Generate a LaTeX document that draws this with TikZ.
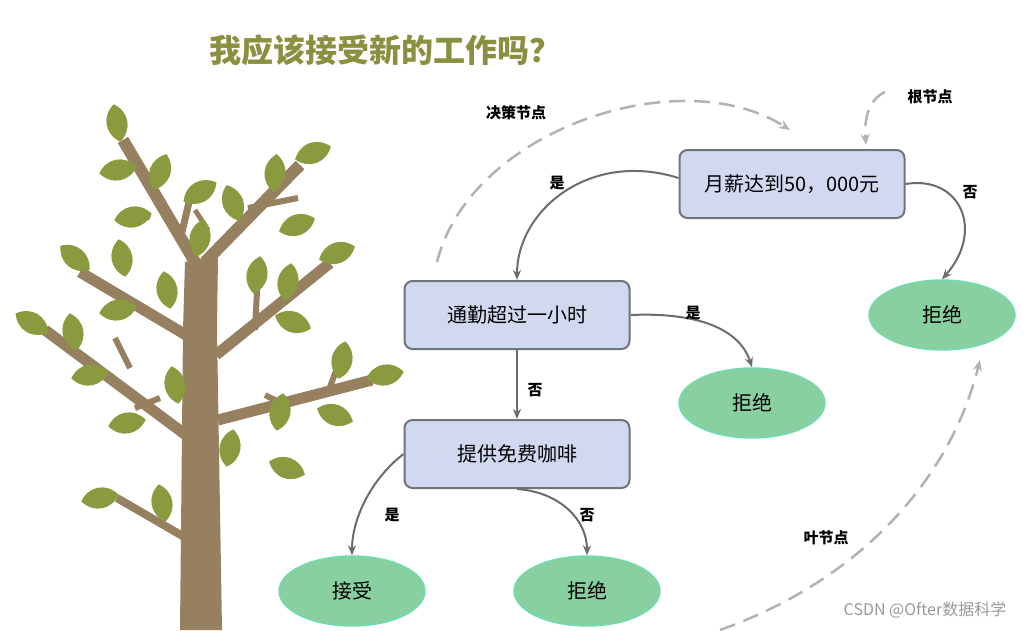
\documentclass[tikz,border=0pt]{standalone}
\usepackage{fontspec}
\setmainfont{Noto Sans CJK SC}
\usetikzlibrary{shapes.geometric,arrows.meta}
\definecolor{leaf}{HTML}{8A9A3E}
\definecolor{bark}{HTML}{968060}
\definecolor{boxf}{HTML}{D0D9F0}
\definecolor{boxd}{HTML}{6E747C}
\definecolor{ellf}{HTML}{88D0A0}
\definecolor{elld}{HTML}{70DDB0}
\definecolor{titlec}{HTML}{8A9040}
\begin{document}
\begin{tikzpicture}[x=1pt,y=-1pt,
 box/.style={draw=boxd,line width=2pt,fill=boxf,rounded corners=8pt,minimum width=225pt,minimum height=68pt,font=\fontsize{20}{24}\selectfont},
 leafn/.style={draw=elld,line width=1.4pt,fill=ellf,ellipse,minimum width=146pt,minimum height=70pt,font=\fontsize{20}{24}\selectfont},
 edge/.style={draw=gray!85!black,line width=2pt,-{Stealth[length=10pt,width=8pt]}},
 dashed arc/.style={draw=gray!60,line width=2.5pt,dash pattern=on 16pt off 9pt,-{Stealth[length=11pt,width=9pt]}},
 lab/.style={font=\bfseries\fontsize{15}{18}\selectfont},
 lf/.style={fill=leaf}]
\useasboundingbox (0,0) rectangle (1035,630);
\fill[white] (0,0) rectangle (1035,630);
% tree
\begin{scope}
\fill[bark] (180,630) -- (183,330) -- (185,262) -- (218,255) -- (217,330) -- (222,630) -- cycle;
\foreach \a/\b/\c/\d/\w in {195/262/123/140/12, 205/262/300/165/12, 182/232/190/198/7, 186/335/80/272/11, 216/355/330/263/11, 186/435/45/330/11, 218/420/372/380/11, 186/538/117/498/8, 248/208/298/198/6, 255/330/258/272/6, 130/368/115/338/6, 330/387/340/360/6, 160/398/135/408/6, 265/395/285/405/6, 130/210/150/218/5, 208/230/195/210/5}
  \draw[bark,line width=\w pt] (\a,\b) -- (\c,\d);
\foreach \x/\y/\r in {117/123/100,118/170/10,160/172/70,133/217/10,200/192/30,200/238/80,233/203/110,275/173/85,313/153/20,297/225/20,75/258/140,122/258/100,167/290/100,118/310/10,257/275/80,288/282/80,337/253/20,293/322/-20,32/323/-30,73/332/100,90/375/10,175/385/100,127/423/10,342/360/80,385/375/10,335/415/-20,280/412/80,230/448/80,287/468/-20,100/498/10,162/503/100}
  \fill[lf,rotate around={\r:(\x,\y)}] (\x-19,\y) .. controls (\x-9,\y-14) and (\x+9,\y-14) .. (\x+19,\y) .. controls (\x+9,\y+14) and (\x-9,\y+14) .. (\x-19,\y) -- cycle;
\end{scope}
\node[text=titlec,font=\bfseries\fontsize{32}{38}\selectfont] (title) at (385,50) {我应该接受新的工作吗？};
\node[box] (root) at (792,184) {月薪达到50，000元};
\node[box] (b2) at (517,315) {通勤超过一小时};
\node[box] (b3) at (517,454) {提供免费咖啡};
\node[leafn] (r1) at (942,315) {拒绝};
\node[leafn] (r2) at (752,403) {拒绝};
\node[leafn] (acc) at (352,591) {接受};
\node[leafn] (r3) at (587,591) {拒绝};
\draw[edge] (root.west) ++(0,-6) .. controls (590,150) and (517,210) .. (b2.north);
\draw[edge] (root.east) .. controls (960,175) and (985,230) .. (r1.north);
\draw[edge] (b2.east) .. controls (700,312) and (740,330) .. (r2.north);
\draw[edge] (b2.south) -- (b3.north);
\draw[edge] (b3.west) .. controls (370,480) and (352,520) .. (acc.north);
\draw[edge] (b3.south) .. controls (560,492) and (587,520) .. (r3.north);
\node[lab] (l1) at (557,183) {是};
\node[lab] (l2) at (970,192) {否};
\node[lab] (l3) at (693,313) {是};
\node[lab] (l4) at (535,390) {否};
\node[lab] (l5) at (392,515) {是};
\node[lab] (l6) at (587,515) {否};
\node[lab] (dn) at (516,113) {决策节点};
\node[lab] (gn) at (930,97) {根节点};
\node[lab] (yn) at (826,538) {叶节点};
\coordinate (d1) at (437,262);
\coordinate (d2) at (790,130);
\coordinate (g1) at (885,92);
\coordinate (g2) at (866,145);
\coordinate (y1) at (720,630);
\coordinate (y2) at (980,360);
\draw[dashed arc] (d1) .. controls (470,130) and (680,60) .. (d2);
\draw[dashed arc] (g1) .. controls (868,100) and (864,120) .. (g2);
\draw[dashed arc] (y1) .. controls (860,580) and (950,480) .. (y2);
\node[text=gray!80,font=\fontsize{16}{19}\selectfont] (wm) at (925,610) {CSDN @Ofter数据科学};
\end{tikzpicture}
\end{document}
